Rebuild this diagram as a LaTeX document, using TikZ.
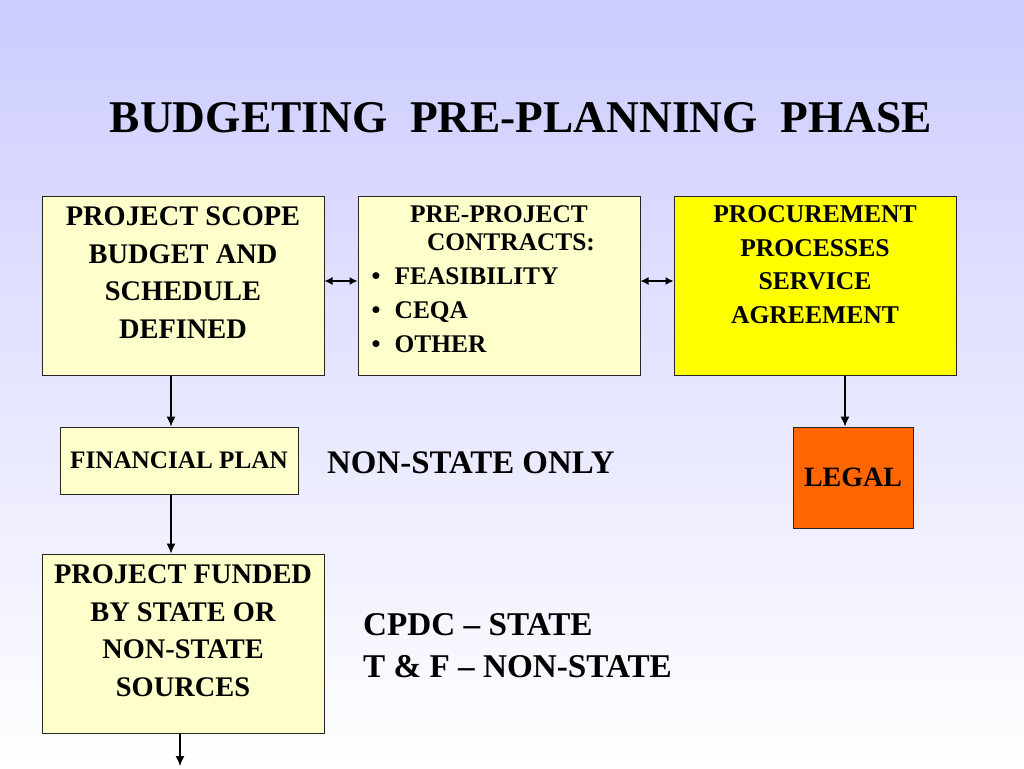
\documentclass[tikz,border=0pt]{standalone}
\usepackage{fontspec}
\setmainfont{Liberation Serif}
\usepackage{tikz}
\usetikzlibrary{positioning,arrows.meta}
\definecolor{paleyellow}{HTML}{FFFFCC}
\definecolor{procyellow}{HTML}{FFFF00}
\definecolor{legalorange}{HTML}{FF6600}
\definecolor{slidetop}{RGB}{204,204,255}
\tikzset{
    box/.style={draw=black!85, line width=1pt, fill=paleyellow, inner sep=0pt},
    boxtext/.style={inner sep=0pt, align=center, anchor=north},
    link/.style={-{Latex[length=10pt,width=9pt]}, line width=1.2pt},
    dlink/.style={{Latex[length=8pt,width=8pt]}-{Latex[length=8pt,width=8pt]}, line width=1.2pt},
}

\begin{document}
\begin{tikzpicture}[x=1pt,y=-1pt,font=\bfseries]
\shade[top color=slidetop, bottom color=white] (0,0) rectangle (1024,768);
\useasboundingbox (0,0) rectangle (1024,768);
\node[inner sep=0pt, font=\fontsize{45.4}{50}\selectfont\bfseries] (title) at (521,118) {BUDGETING\ \ PRE-PLANNING\ \ PHASE};
% top row
\node[box, minimum width=282, minimum height=179] (scope) at (183,285.5) {};
\node[box, minimum width=282, minimum height=179] (contracts) at (499,285.5) {};
\node[box, fill=procyellow, minimum width=282, minimum height=179] (procure) at (815,285.5) {};
\node[boxtext, below=11pt of scope.north, font=\fontsize{28.4}{37.5}\selectfont\bfseries] (scopetext)
    {PROJECT SCOPE\\BUDGET AND\\SCHEDULE\\DEFINED};
\node[boxtext, below=10pt of contracts.north, font=\fontsize{25.4}{28}\selectfont\bfseries] (contractstext)
    {PRE-PROJECT\\\hspace*{24pt}CONTRACTS:};
\node[inner sep=0pt, align=left, anchor=north west, below right=72pt and 14pt of contracts.north west,
    font=\fontsize{25.4}{34}\selectfont\bfseries] (contractslist)
    {\makebox[23pt][l]{\textbullet}FEASIBILITY\\\makebox[23pt][l]{\textbullet}CEQA\\\makebox[23pt][l]{\textbullet}OTHER};
\node[boxtext, below=10pt of procure.north, font=\fontsize{25.6}{33.5}\selectfont\bfseries] (proceduretext)
    {PROCUREMENT\\PROCESSES\\SERVICE\\AGREEMENT};
% lower boxes
\node[box, minimum width=238, minimum height=67, font=\fontsize{25.2}{30}\selectfont\bfseries] (fin) at (179,460.5) {FINANCIAL PLAN};
\node[box, fill=legalorange, minimum width=120, minimum height=101, font=\fontsize{28}{32}\selectfont\bfseries] (legal) at (853,477.5) {LEGAL};
\node[box, minimum width=282, minimum height=179] (funded) at (183,643.5) {};
\node[boxtext, below=11pt of funded.north, font=\fontsize{28.4}{37.5}\selectfont\bfseries] (fundedtext)
    {PROJECT FUNDED\\BY STATE OR\\NON-STATE\\SOURCES};
% free texts
\node[inner sep=0pt, anchor=base west, font=\fontsize{32.9}{40}\selectfont\bfseries] (nonstate) at (327,473) {NON-STATE ONLY};
\node[inner sep=0pt, anchor=north west, align=left, font=\fontsize{33.2}{42}\selectfont\bfseries] (sources) at (363,613)
    {CPDC -- STATE\\T \& F -- NON-STATE};
\coordinate (out) at (180,766);
% connectors
\draw[dlink] ([yshift=4.5pt]scope.east) -- ([yshift=4.5pt]contracts.west);
\draw[dlink] ([yshift=4.5pt]contracts.east) -- ([yshift=4.5pt]procure.west);
\draw[link] ([xshift=-12pt]scope.south) -- ([xshift=-12pt]scope.south |- fin.north);
\draw[link] ([xshift=-8pt]fin.south) -- ([xshift=-8pt]fin.south |- funded.north);
\draw[link] ([xshift=30pt]procure.south) -- ([xshift=30pt]procure.south |- legal.north);
\draw[link] (funded.south -| out) -- (out);
\end{tikzpicture}
\end{document}
